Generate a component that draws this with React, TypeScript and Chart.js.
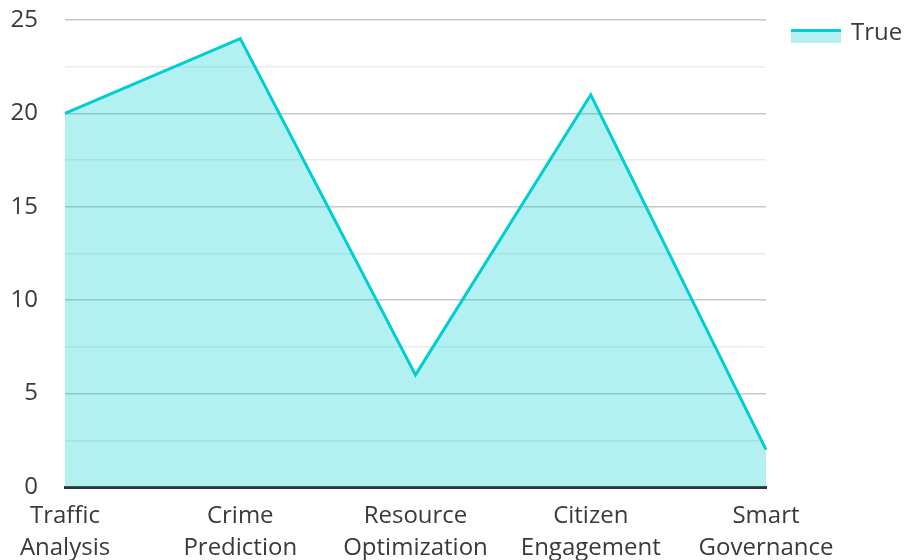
import React, { useEffect, useRef } from "react";
import { Chart, registerables } from "chart.js";

Chart.register(...registerables);

const categories: string[][] = [
  ["Traffic", "Analysis"],
  ["Crime", "Prediction"],
  ["Resource", "Optimization"],
  ["Citizen", "Engagement"],
  ["Smart", "Governance"],
];
const seriesName = "True";
const values: number[] = [20, 24, 6, 21, 2];
const yMin = 0;
const yMax = 25;
const yStep = 2.5;

const LINE = "#00CED1";
const FILL = "rgba(0, 206, 209, 0.3)";
const TEXT = "#3a3a3a";
const FONT = "'Open Sans', 'Noto Sans', sans-serif";

// Legend drawn beside the plot, using dataset's own label and colours
const sideLegend = {
  id: "sideLegend",
  afterDraw(chart: any) {
    const ctx = chart.ctx;
    const area = chart.chartArea;
    const boxW = 50;
    const boxH = 14;
    const x0 = area.right + 25;
    const y0 = area.top + 9;
    chart.data.datasets.forEach((ds: any, i: number) => {
      const y = y0 + i * 34;
      ctx.save();
      ctx.fillStyle = ds.backgroundColor;
      ctx.fillRect(x0, y, boxW, boxH);
      ctx.fillStyle = ds.borderColor;
      ctx.fillRect(x0, y, boxW, 3);
      ctx.fillStyle = TEXT;
      ctx.font = `24px ${FONT}`;
      ctx.textAlign = "left";
      ctx.textBaseline = "middle";
      ctx.fillText(ds.label, x0 + boxW + 10, y + boxH / 2 - 3);
      ctx.restore();
    });
  },
};

export default function App() {
  const ref = useRef<HTMLCanvasElement | null>(null);
  useEffect(() => {
    if (!ref.current) return;
    const chart = new Chart(ref.current, {
      type: "line",
      data: {
        labels: categories,
        datasets: [
          {
            label: seriesName,
            data: values,
            borderColor: LINE,
            backgroundColor: FILL,
            borderWidth: 3,
            fill: "origin",
            tension: 0,
            pointRadius: 0,
            pointHoverRadius: 0,
          },
        ],
      },
      options: {
        responsive: false,
        animation: false,
        devicePixelRatio: 1,
        layout: { padding: { top: 20, left: 0, right: 138, bottom: 0 } },
        plugins: {
          tooltip: { enabled: false },
          legend: { display: false },
        },
        scales: {
          x: {
            offset: false,
            grid: { display: false, drawTicks: false },
            border: { display: true, color: "#333333", width: 3 },
            ticks: {
              color: TEXT,
              font: { family: FONT, size: 24, lineHeight: 1.3 },
              maxRotation: 0,
              autoSkip: false,
              padding: 14,
            },
            afterFit: (s: any) => {
              s.height = 113;
              s.paddingRight = 0;
              s.paddingLeft = 0;
            },
          },
          y: {
            min: yMin,
            max: yMax,
            border: { display: false },
            grid: {
              drawTicks: false,
              lineWidth: 1.5,
              color: (c: any) => {
                const v = c.tick ? c.tick.value : 0;
                return Math.abs(v % 5) < 1e-6 ? "#c8c8c8" : "#ebebeb";
              },
            },
            ticks: {
              stepSize: yStep,
              color: TEXT,
              padding: 27,
              font: { family: FONT, size: 24 },
              callback: (v: any) => (Math.abs(Number(v) % 5) < 1e-6 ? String(v) : ""),
            },
            afterFit: (s: any) => {
              s.width = 65;
              s.paddingTop = 0;
              s.paddingBottom = 0;
            },
          },
        },
      },
      plugins: [sideLegend],
    } as any);
    return () => chart.destroy();
  }, []);
  return (
    <div style={{ position: "absolute", left: 0, top: 0, width: 904, height: 600 }}>
      <canvas ref={ref} width={904} height={600} style={{ width: 904, height: 600 }} />
    </div>
  );
}
